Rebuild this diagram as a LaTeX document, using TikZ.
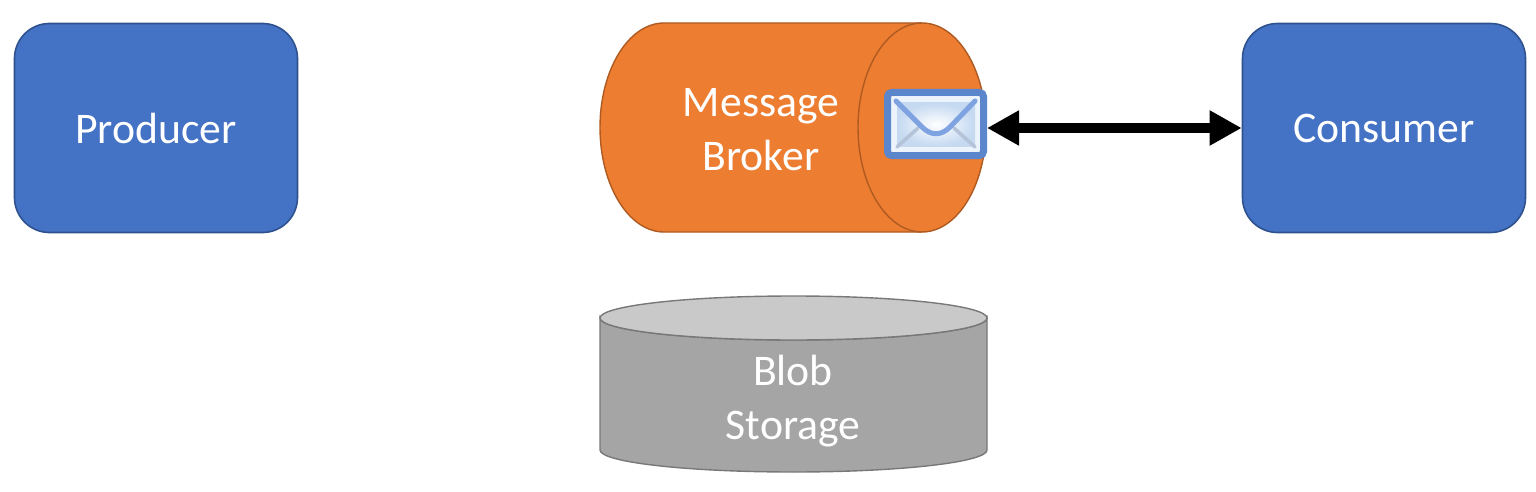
\documentclass[tikz,border=0pt]{standalone}
\usepackage{fontspec}
\setmainfont{Carlito}
\usetikzlibrary{arrows.meta}
\definecolor{boxblue}{HTML}{4472C4}
\definecolor{boxedge}{HTML}{2F528F}
\definecolor{brokerfill}{HTML}{ED7D31}
\definecolor{brokeredge}{HTML}{AE5A21}
\definecolor{dbside}{HTML}{A5A5A5}
\definecolor{dbtop}{HTML}{C9C9C9}
\definecolor{dbedge}{HTML}{787878}
\definecolor{envedge}{HTML}{5B86CC}
\definecolor{envflap}{HTML}{7FA3E0}
\definecolor{envpale}{HTML}{EDF3FB}
\definecolor{envmid}{HTML}{C5D9F1}
\definecolor{envleg}{HTML}{B4C3D8}
\tikzset{
  x=1pt,y=-1pt,
  bluebox/.style={draw=boxedge,line width=1.6pt,fill=boxblue,rounded corners=35pt,minimum width=283pt,minimum height=209pt,inner sep=0pt},
  lbl/.style={text=white,font=\fontsize{43.7}{53.5}\selectfont,align=center,inner sep=0pt},
  biarrow/.style={line width=10pt,{Triangle[length=32pt,width=33pt]}-{Triangle[length=32pt,width=33pt]},shorten >=0pt,shorten <=0pt}
}
\begin{document}
\begin{tikzpicture}
\useasboundingbox (0,0) rectangle (1536,492);
\fill[white] (0,0) rectangle (1536,492);
% producer / consumer
\node[bluebox,lbl] (producer) at (156,128) {Producer};
\node[bluebox,lbl] (consumer) at (1384,128) {Consumer};
% broker cylinder
\draw[draw=brokeredge,line width=1.4pt,fill=brokerfill]
  (664,23) -- (922,23) arc[start angle=-90,end angle=90,x radius=64,y radius=104.5]
  -- (664,232) arc[start angle=90,end angle=270,x radius=64,y radius=104.5] -- cycle;
\draw[draw=brokeredge,line width=1.4pt]
  (922,23) arc[start angle=-90,end angle=-270,x radius=64,y radius=104.5];
\node[lbl] (broker) at (761,129.5) {Message\\Broker};
% envelope
\node[draw=envedge,fill=envpale,line width=7pt,rounded corners=4pt,minimum width=96pt,minimum height=63pt,inner sep=0pt] (envelope) at (935.5,124) {};
\fill[inner color=white,outer color=envmid] (897,103) rectangle (975,146);
\draw[line width=3.5pt,line cap=round,color=envleg] (897,147) -- (918,128);
\draw[line width=3.5pt,line cap=round,color=envleg] (975,147) -- (954,128);
\draw[line width=5pt,line cap=round,color=envflap]
  (896,101) -- (922,127) .. controls (931,136) and (941,136) .. (950,127) -- (975,101);
% arrow
\draw[biarrow] (envelope.east |- consumer.west) -- (consumer.west);
% blob storage
\draw[draw=dbedge,line width=1.4pt,fill=dbside]
  (600,318) -- (600,450) arc[start angle=180,end angle=0,x radius=193.5,y radius=22] -- (987,318)
  arc[start angle=0,end angle=180,x radius=193.5,y radius=22] -- cycle;
\draw[draw=dbedge,line width=1.4pt,fill=dbtop]
  (793.5,318) ellipse[x radius=193.5,y radius=22];
\node[lbl] (blob) at (793,401) {Blob\\Storage};
\end{tikzpicture}
\end{document}
